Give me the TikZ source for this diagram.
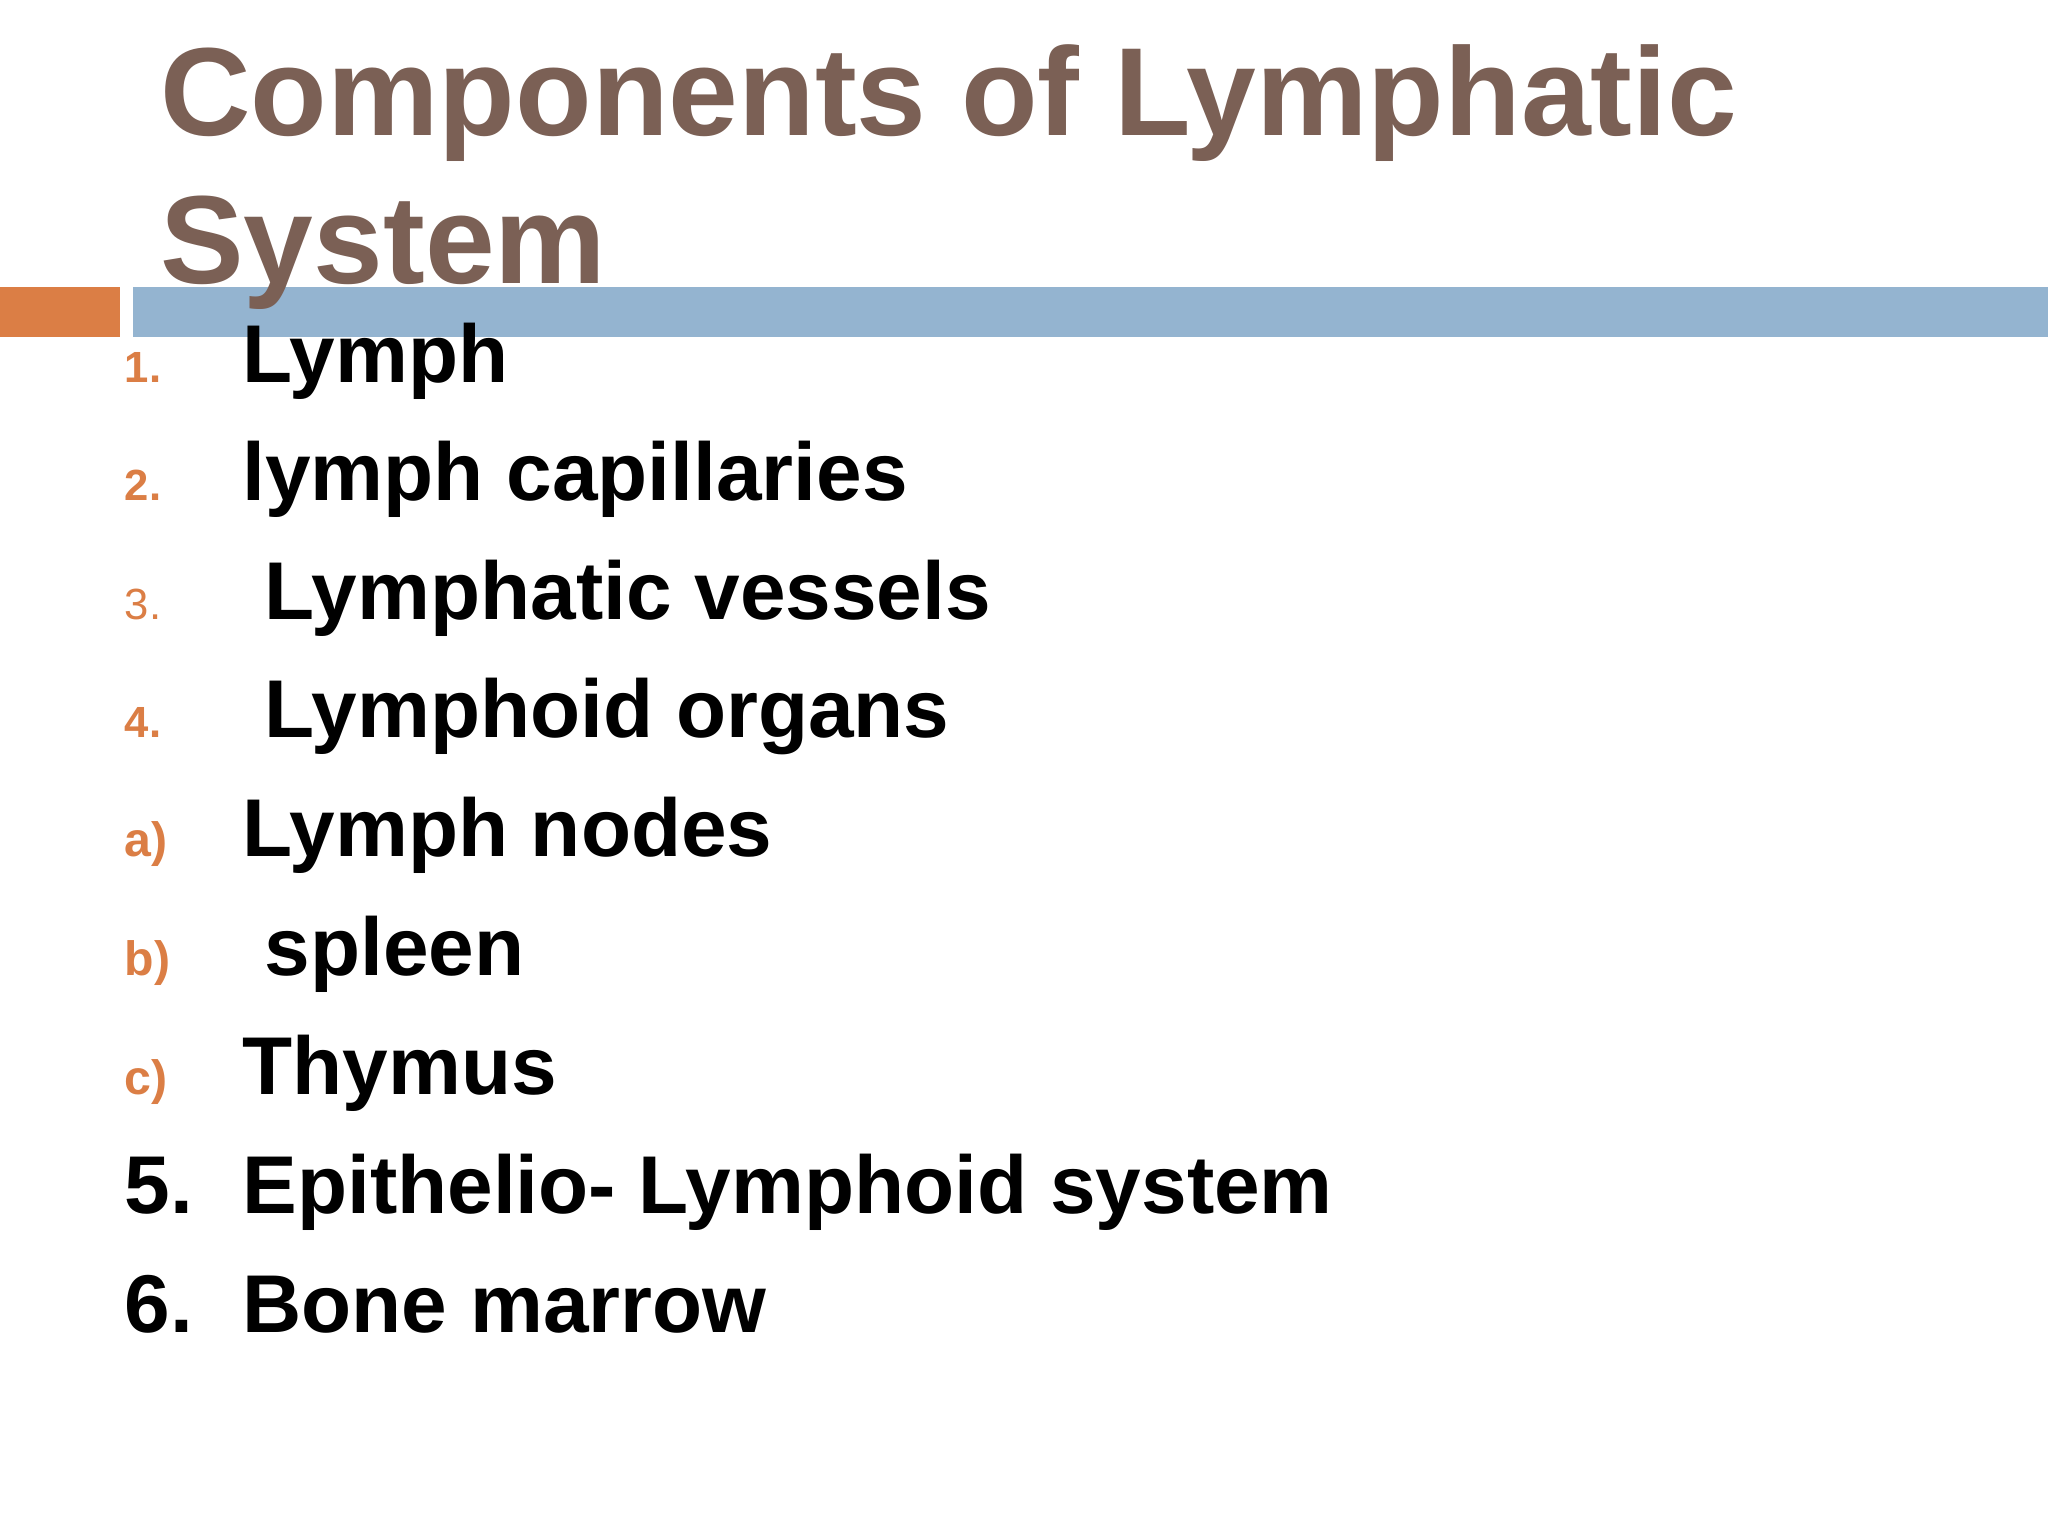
\documentclass[tikz,border=0pt]{standalone}
\usepackage{fontspec}
\setmainfont{Liberation Sans}
\definecolor{ttl}{HTML}{7B6055}
\definecolor{org}{HTML}{DB7E45}
\definecolor{blu}{HTML}{94B4D0}
\begin{document}
\begin{tikzpicture}[x=0.01cm,y=-0.01cm,
  item/.style={anchor=base west,inner sep=0pt,font=\fontsize{17.85pt}{20pt}\selectfont\bfseries},
  num/.style={anchor=base west,inner sep=0pt,text=org,font=\fontsize{9.5pt}{10pt}\selectfont},
  ttlstyle/.style={anchor=base west,inner sep=0pt,text=ttl,font=\fontsize{27.3pt}{30pt}\selectfont\bfseries}]
\useasboundingbox (0,0) rectangle (1568,1176);
\fill[white] (0,0) rectangle (1568,1176);
\fill[org] (0,220) rectangle (92,258);
\fill[blu] (102,220) rectangle (1568,258);
\node[ttlstyle] (t1) at (122,104) {Components of Lymphatic};
\node[ttlstyle] (t2) at (122,217) {System};
\node[num,font=\fontsize{9.5pt}{10pt}\selectfont\bfseries] (n1) at (95,293) {1.};
\node[item] (i1) at (185,293) {Lymph};
\node[num,font=\fontsize{9.5pt}{10pt}\selectfont\bfseries] (n2) at (95,383) {2.};
\node[item] (i2) at (185,383) {lymph capillaries};
\node[num] (n3) at (95,474) {3.};
\node[item] (i3) at (202,474) {Lymphatic vessels};
\node[num,font=\fontsize{9.5pt}{10pt}\selectfont\bfseries] (n4) at (95,565) {4.};
\node[item] (i4) at (202,565) {Lymphoid organs};
\node[num,font=\fontsize{10.5pt}{11pt}\selectfont\bfseries] (na) at (95,656) {a)};
\node[item] (ia) at (185,656) {Lymph nodes};
\node[num,font=\fontsize{10.5pt}{11pt}\selectfont\bfseries] (nb) at (95,747) {b)};
\node[item] (ib) at (202,747) {spleen};
\node[num,font=\fontsize{10.5pt}{11pt}\selectfont\bfseries] (nc) at (95,838) {c)};
\node[item] (ic) at (185,838) {Thymus};
\node[item] (n5) at (95,929) {5.};
\node[item] (i5) at (185,929) {Epithelio- Lymphoid system};
\node[item] (n6) at (95,1020) {6.};
\node[item] (i6) at (185,1020) {Bone marrow};
\end{tikzpicture}
\end{document}
